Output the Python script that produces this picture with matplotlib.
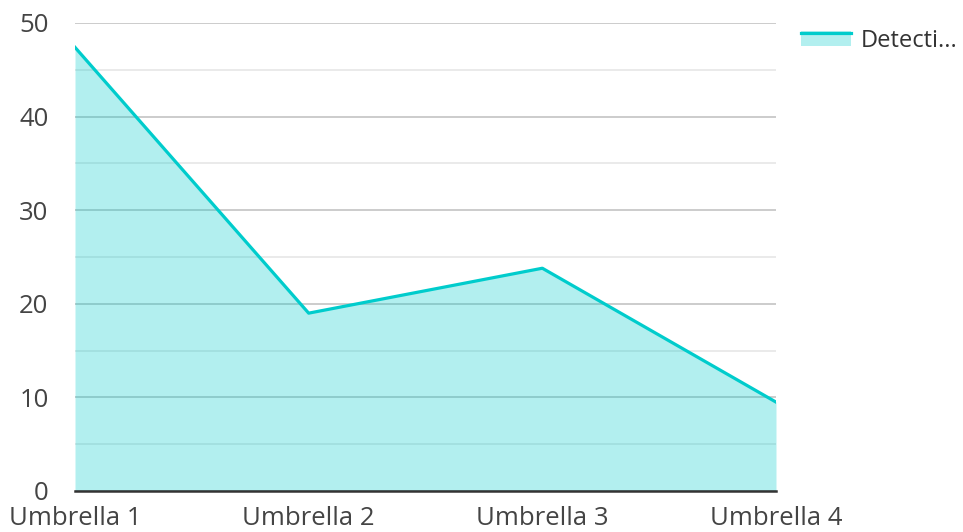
import numpy as np
import matplotlib.pyplot as plt
from matplotlib.patches import Rectangle
from matplotlib.lines import Line2D
from matplotlib.legend_handler import HandlerBase

categorias = ["Umbrella 1", "Umbrella 2", "Umbrella 3", "Umbrella 4"]
valores = [47.4, 19.0, 23.8, 9.5]
nome_serie = "Detecti..."

plt.rcParams['font.family'] = ['Open Sans', 'DejaVu Sans']

cor = "#00cccc"
tam_fonte = 18.5


class HandlerArea(HandlerBase):
    # area clara com a linha no topo
    def create_artists(self, legend, orig_handle, xdescent, ydescent,
                       width, height, fontsize, trans):
        ret = Rectangle((-xdescent, -ydescent), width, height,
                        facecolor=cor, alpha=0.3, edgecolor="none", transform=trans)
        topo = -ydescent + height - 1.2
        lin = Line2D([-xdescent, -xdescent + width], [topo, topo],
                     color=cor, linewidth=2.3, transform=trans)
        return [ret, lin]


fig = plt.figure(figsize=(9.63, 5.32), dpi=100)
ax = fig.add_axes([75 / 963, 1 - 491 / 532, 701 / 963, 468 / 532])

x = np.arange(len(categorias))
ax.fill_between(x, valores, 0, color=cor, alpha=0.3, linewidth=0, zorder=2)
ax.plot(x, valores, color=cor, linewidth=2.3, zorder=3)

ax.set_xlim(0, len(categorias) - 1)
ax.set_ylim(0, 50)
ax.set_xticks(x)
ax.set_xticklabels(categorias)
ax.set_yticks(np.arange(0, 51, 10))
ax.set_yticks(np.arange(5, 50, 10), minor=True)

ax.grid(axis="y", which="major", color="#c4c4c4", linewidth=1.2, zorder=1)
ax.grid(axis="y", which="minor", color="#e6e6e6", linewidth=1.2, zorder=1)
ax.set_axisbelow(True)
ax.tick_params(axis="both", which="both", length=0, labelsize=tam_fonte, colors="#444444")
ax.tick_params(axis="y", pad=19)
ax.tick_params(axis="x", pad=11)

for lado in ["left", "right", "top"]:
    ax.spines[lado].set_visible(False)
ax.spines["bottom"].set_color("#333333")
ax.spines["bottom"].set_linewidth(1.8)
ax.spines["bottom"].set_zorder(4)

leg = fig.legend([object()], [nome_serie], loc="upper left",
                 handler_map={object: HandlerArea()},
                 bbox_to_anchor=(801 / 963, 1 - 29 / 532), frameon=False,
                 fontsize=17, handlelength=2.1, handleheight=0.62,
                 handletextpad=0.45, borderaxespad=0, borderpad=0)
for t in leg.get_texts():
    t.set_color("#333333")

fig.savefig("out.png", dpi=100)
